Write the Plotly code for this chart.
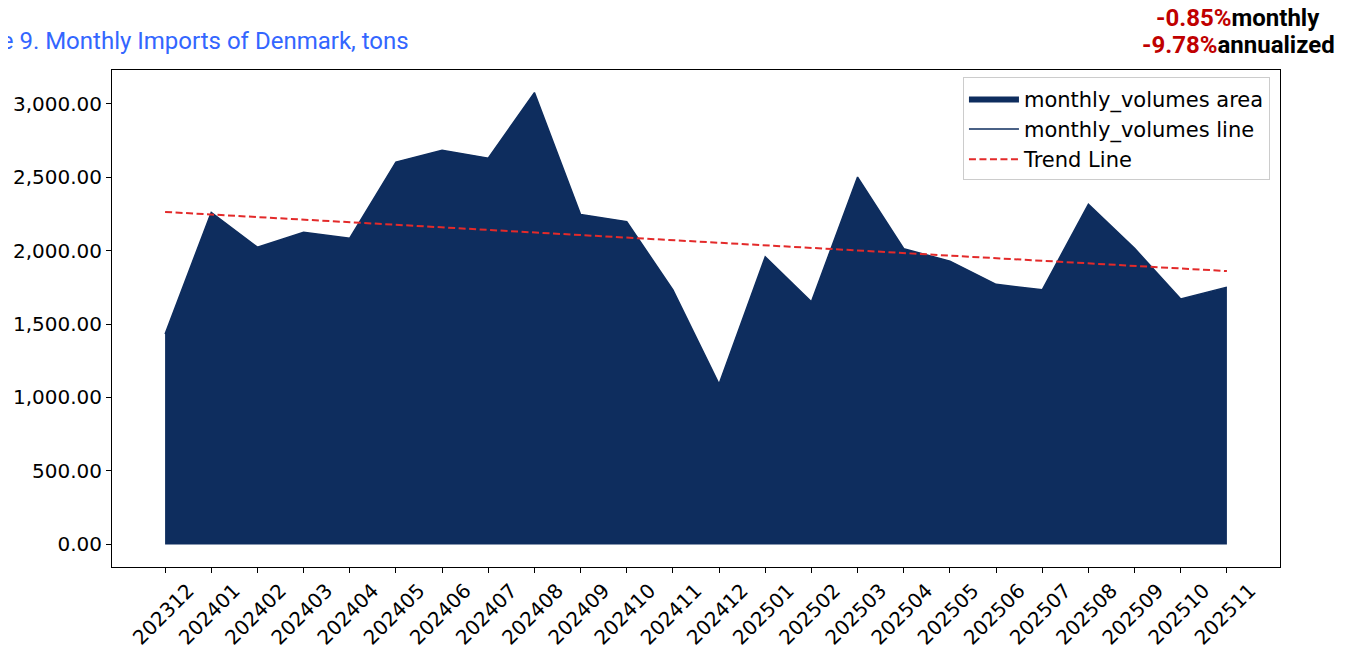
import numpy as np
import plotly.graph_objects as go

months = ["202312", "202401", "202402", "202403", "202404", "202405", "202406", "202407",
          "202408", "202409", "202410", "202411", "202412", "202501", "202502", "202503",
          "202504", "202505", "202506", "202507", "202508", "202509", "202510", "202511"]
monthly_volumes = [1432, 2260, 2023, 2125, 2084, 2602, 2682, 2629,
                   3075, 2245, 2197, 1732, 1091, 1957, 1652, 2500,
                   2012, 1928, 1770, 1733, 2315, 2015, 1670, 1751]
monthly_change_label = "-0.85%"
annualized_change_label = "-9.78%"
title_text = "Figure 9. Monthly Imports of Denmark, tons"

x_idx = np.arange(len(months))
slope, intercept = np.polyfit(x_idx, monthly_volumes, 1)
trend = slope * x_idx + intercept

NAVY = "#0e2d5e"
RED = "#e32a2a"
FONT = "DejaVu Sans"

fig = go.Figure()
fig.add_trace(go.Scatter(x=x_idx, y=monthly_volumes, mode="lines", fill="tozeroy",
                         fillcolor=NAVY, line=dict(width=0, color=NAVY),
                         name="monthly_volumes area"))
fig.add_trace(go.Scatter(x=x_idx, y=monthly_volumes, mode="lines",
                         line=dict(width=1.5, color=NAVY),
                         name="monthly_volumes line"))
fig.add_trace(go.Scatter(x=x_idx, y=trend, mode="lines",
                         line=dict(width=2, color=RED, dash="7px,3.5px"),
                         name="Trend Line"))

ymax = max(monthly_volumes)
n = len(months)
# page body has an 8px offset; plot area spans page x 112..1280, y 70..567
fig.update_layout(
    width=1344, height=642,
    margin=dict(l=104, r=72, t=62, b=83),
    paper_bgcolor="white", plot_bgcolor="white",
    font=dict(family=FONT, size=20, color="black"),
    showlegend=True,
    legend=dict(x=0.9914, xanchor="right", y=0.985, yanchor="top",
                bgcolor="white", bordercolor="#cccccc", borderwidth=1,
                itemwidth=50,
                font=dict(family=FONT, size=21)),
    xaxis=dict(range=[-1.15, n - 1 + 1.15], tickmode="array",
               tickvals=list(x_idx), ticktext=months, tickangle=-45,
               ticks="outside", ticklen=5, tickcolor="black",
               showline=True, linecolor="black", linewidth=1, mirror=True,
               showgrid=False, zeroline=False, ticklabelshift=23,
               ticklabelstandoff=-2,
               automargin=False,
               tickfont=dict(family=FONT, size=20)),
    yaxis=dict(range=[-0.05 * ymax, 1.05 * ymax], tickformat=",.2f",
               tickvals=[0, 500, 1000, 1500, 2000, 2500, 3000],
               ticks="outside", ticklen=5, tickcolor="black",
               showline=True, linecolor="black", linewidth=1, mirror=True,
               showgrid=False, zeroline=False, automargin=False,
               tickfont=dict(family=FONT, size=20)),
)

fig.add_annotation(text=title_text, xref="paper", yref="paper",
                   x=(411 - 112) / 1168, y=(567 - 41) / 497,
                   xanchor="right", yanchor="middle", showarrow=False,
                   font=dict(family="Roboto", size=24, color="#3366ff"))
fig.add_annotation(text=f"<b><span style='color:#c00000'>{monthly_change_label}</span>monthly</b>",
                   xref="paper", yref="paper",
                   x=(1238 - 112) / 1168, y=(567 - 18) / 497,
                   xanchor="center", yanchor="middle", showarrow=False,
                   font=dict(family="Roboto", size=24, color="black"))
fig.add_annotation(text=f"<b><span style='color:#c00000'>{annualized_change_label}</span>annualized</b>",
                   xref="paper", yref="paper",
                   x=(1238 - 112) / 1168, y=(567 - 45) / 497,
                   xanchor="center", yanchor="middle", showarrow=False,
                   font=dict(family="Roboto", size=24, color="black"))

fig.write_html("out.html")
